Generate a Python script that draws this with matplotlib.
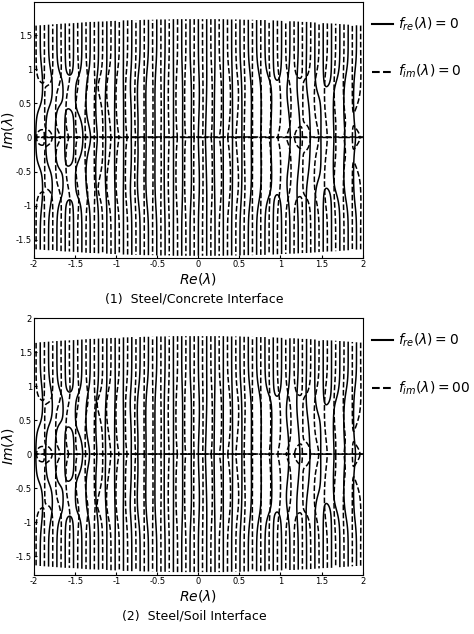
import numpy as np
import matplotlib
matplotlib.use("Agg")
import matplotlib.pyplot as plt

# roots of the perturbing polynomial (crossing points on the real axis)
roots_concrete = [-1.3, -0.85, 0.0, 1.1, 1.95]
roots_soil = [-1.35, -0.85, 0.0, 1.15, 1.95]
xticks = [-2, -1.5, -1, -0.5, 0, 0.5, 1, 1.5, 2]
yticks_top = [-1.5, -1, -0.5, 0, 0.5, 1, 1.5]
yticks_bot = [-1.5, -1, -0.5, 0, 0.5, 1, 1.5, 2]
captions = ["(1)  Steel/Concrete Interface", "(2)  Steel/Soil Interface"]
legend_texts = [[r"$f_{re}(\lambda)=0$", r"$f_{im}(\lambda)=0$"],
                [r"$f_{re}(\lambda)=0$", r"$f_{im}(\lambda)=00$"]]

fig = plt.figure(figsize=(4.74, 6.34), dpi=100)
axes_pos = [[0.072, 0.593, 0.693, 0.404], [0.072, 0.093, 0.693, 0.405]]
ylims = [(-1.77, 1.99), (-1.78, 2.0)]
ytick_sets = [yticks_top, yticks_bot]

x = np.linspace(-2, 2, 1000)
y = np.linspace(-1.8, 1.8, 800)
X, Y = np.meshgrid(x, y)
L = X + 1j * Y
k, k2 = 31.0, 26.0

def fmt(v):
    return str(int(v)) if float(v).is_integer() else str(v)

for i, roots in enumerate([roots_concrete, roots_soil]):
    ax = fig.add_axes(axes_pos[i])
    P = np.ones_like(L)
    for r in roots:
        P = P * (L - r) / (np.abs(L - r) + 0.25)
    F = np.sin(k * L) + 6.0 * P * np.cos(k2 * X) * np.cosh(k * Y) * np.exp(-(Y / 0.9) ** 4)
    mask = np.abs(Y) > (1.74 - 0.025 * X**2)
    Fr = np.ma.masked_where(mask, F.real)
    Fi = np.ma.masked_where(mask, F.imag)
    ax.contour(X, Y, Fr, levels=[0], colors="k", linewidths=1.1, linestyles="solid")
    ax.contour(X, Y, Fi, levels=[0], colors="k", linewidths=1.1, linestyles="dashed")
    ax.axhline(0, color="k", lw=1.1, ls="--")
    ax.set_xlim(-2, 2)
    ax.set_ylim(*ylims[i])
    ax.set_xticks(xticks)
    ax.set_xticklabels([fmt(v) for v in xticks])
    ax.set_yticks(ytick_sets[i])
    ax.set_yticklabels([fmt(v) for v in ytick_sets[i]])
    ax.tick_params(labelsize=6, direction="in", length=2, pad=1.5)
    ax.set_xlabel(r"$Re(\lambda)$", fontsize=10, labelpad=1)
    ax.set_ylabel(r"$Im(\lambda)$", fontsize=10, labelpad=0)
    top = axes_pos[i][1] + axes_pos[i][3]
    fig.lines.append(plt.Line2D([0.785, 0.83], [top - 0.035, top - 0.035], color="k", lw=1.5, transform=fig.transFigure))
    fig.lines.append(plt.Line2D([0.785, 0.83], [top - 0.11, top - 0.11], color="k", lw=1.5, ls="--", transform=fig.transFigure))
    fig.text(0.84, top - 0.035, legend_texts[i][0], fontsize=10, va="center")
    fig.text(0.84, top - 0.11, legend_texts[i][1], fontsize=10, va="center")
    fig.text(0.41, axes_pos[i][1] - 0.065, captions[i], fontsize=9, ha="center", va="center")

fig.savefig("out.png", dpi=100)
